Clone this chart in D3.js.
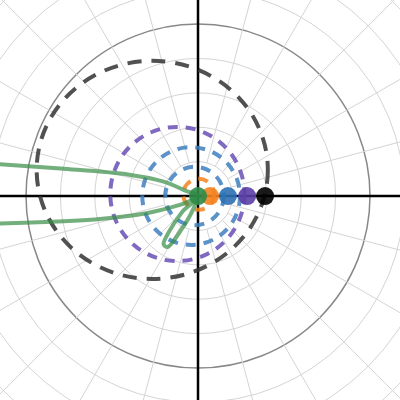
<!DOCTYPE html>
<html><head><meta charset="utf-8">
<script src="https://cdn.jsdelivr.net/npm/d3@7"></script>
<style>body{margin:0;background:#fff}</style></head>
<body><div id="chart"></div>
<script>
// orbits: centre x, centre y, radius x, radius y (units)
const orbitNames = ['black', 'purple', 'blueOuter', 'blueInner', 'orange'];
const orbitCx = [-1.33, -0.6, -0.2, -0.1, 0.02];
const orbitCy = [0.76, 0.06, 0.0, 0.0, 0.05];
const orbitRx = [3.36, 1.95, 1.42, 0.85, 0.45];
const orbitRy = [3.17, 1.95, 1.42, 0.85, 0.45];
const orbitColors = ['#333', '#6a4fb5', '#3e7fc0', '#3e7fc0', '#f5821f'];

const pointX = [1.95, 1.43, 0.87, 0.35, 0];
const pointColors = ['#000', '#5b3fa6', '#2d70b3', '#f5821f', '#2f8a47'];

const greenX = [-5.8, -4, -2, -1, -0.35, 0, -0.45, -0.85, -1.0, -0.88, -0.5, -0.15, -0.05, -0.5, -1.5, -3, -5.8];
const greenY = [0.93, 0.8, 0.62, 0.42, 0.15, 0, -0.45, -1.05, -1.4, -1.48, -1.0, -0.4, -0.1, -0.25, -0.5, -0.68, -0.8];

const W = 400, H = 400;
const x = d3.scaleLinear().domain([-5.756, 5.872]).range([0, W]);
const y = d3.scaleLinear().domain([-5.93, 5.70]).range([H, 0]);
const unit = x(1) - x(0);

const svg = d3.select('#chart').append('svg').attr('width', W).attr('height', H);
const cx = x(0), cy = y(0);

// polar grid
for (let r = 1; r <= 9; r++) {
  svg.append('circle').attr('cx', cx).attr('cy', cy).attr('r', r * unit)
    .attr('fill', 'none').attr('stroke', r === 5 ? '#888' : '#d4d4d4').attr('stroke-width', r === 5 ? 1.5 : 1);
}
for (let a = 0; a < 360; a += 15) {
  const t = a * Math.PI / 180;
  svg.append('line').attr('x1', cx + Math.cos(t) * unit).attr('y1', cy - Math.sin(t) * unit)
    .attr('x2', cx + Math.cos(t) * 12 * unit).attr('y2', cy - Math.sin(t) * 12 * unit)
    .attr('stroke', '#d4d4d4').attr('stroke-width', 1);
}
svg.append('line').attr('x1', 0).attr('x2', W).attr('y1', cy).attr('y2', cy).attr('stroke', '#000').attr('stroke-width', 2.5);
svg.append('line').attr('x1', cx).attr('x2', cx).attr('y1', 0).attr('y2', H).attr('stroke', '#000').attr('stroke-width', 2.5);

// dashed orbits
orbitNames.forEach((n, i) => {
  svg.append('ellipse').attr('cx', x(orbitCx[i])).attr('cy', y(orbitCy[i]))
    .attr('rx', orbitRx[i] * unit).attr('ry', orbitRy[i] * unit)
    .attr('fill', 'none').attr('stroke', orbitColors[i]).attr('stroke-width', 4)
    .attr('stroke-dasharray', i === 0 ? '14,10' : '10,8').attr('opacity', 0.85);
});

// green trajectory
svg.append('path').datum(d3.zip(greenX, greenY))
  .attr('d', d3.line().x(d => x(d[0])).y(d => y(d[1])).curve(d3.curveCatmullRom))
  .attr('fill', 'none').attr('stroke', '#388c46').attr('stroke-width', 4).attr('opacity', 0.7);

// bodies
svg.selectAll('.pt').data(pointX).enter().append('circle')
  .attr('cx', d => x(d)).attr('cy', cy).attr('r', 9)
  .attr('fill', (d, i) => pointColors[i]).attr('opacity', 0.9);
</script></body></html>
